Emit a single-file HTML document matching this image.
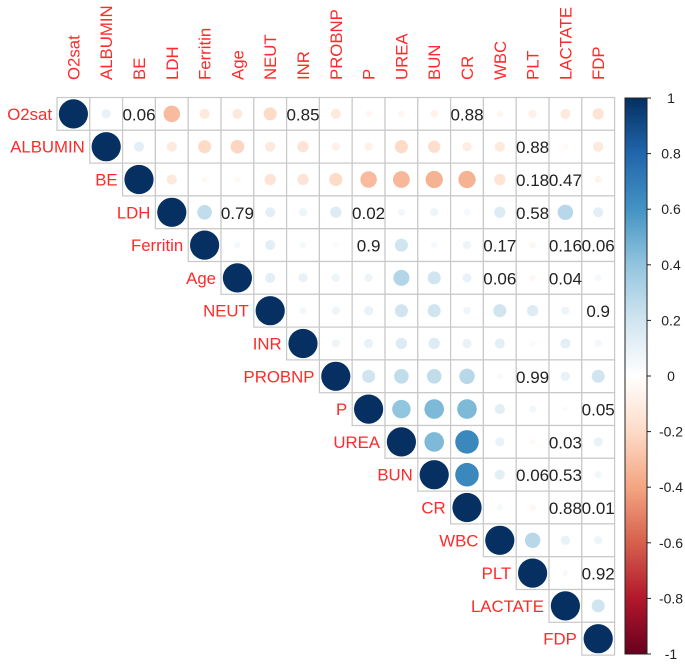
<!DOCTYPE html>
<html><head><meta charset="utf-8"><style>
html,body{margin:0;padding:0;background:#fff;}
svg{display:block;font-family:"Liberation Sans",Arial,sans-serif;}
</style></head><body>
<svg id="chart" width="685" height="664" viewBox="0 0 685 664" xmlns="http://www.w3.org/2000/svg"></svg>
<script>
const variables = ["O2sat","ALBUMIN","BE","LDH","Ferritin","Age","NEUT","INR","PROBNP","P","UREA","BUN","CR","WBC","PLT","LACTATE","FDP"];
// upper triangle rows (starting at diagonal); numbers = correlation, strings = printed p-value (insignificant)
const row0  = [1, 0.1, "0.06", -0.32, -0.12, -0.12, -0.2, "0.85", -0.12, -0.05, -0.05, -0.07, "0.88", -0.05, -0.08, -0.12, -0.15];
const row1  = [1, 0.12, -0.12, -0.2, -0.22, -0.12, -0.15, -0.08, -0.08, -0.2, -0.18, -0.1, -0.12, "0.88", -0.04, -0.12];
const row2  = [1, -0.12, -0.04, -0.04, -0.15, -0.15, -0.2, -0.32, -0.33, -0.35, -0.35, -0.15, "0.18", "0.47", -0.06];
const row3  = [1, 0.25, "0.79", 0.12, 0.08, 0.15, "0.02", 0.06, 0.08, 0.05, 0.15, "0.58", 0.28, 0.12];
const row4  = [1, 0.05, 0.12, 0.05, 0.03, "0.9", 0.2, 0.05, 0.08, "0.17", -0.05, "0.16", "0.06"];
const row5  = [1, 0.12, 0.1, 0.08, 0.08, 0.3, 0.2, 0.1, "0.06", -0.05, "0.04", 0.05];
const row6  = [1, 0.06, 0.08, 0.1, 0.2, 0.2, 0.07, 0.2, 0.15, 0.08, "0.9"];
const row7  = [1, 0.08, 0.1, 0.15, 0.15, 0.1, 0.12, -0.04, 0.12, 0.06];
const row8  = [1, 0.2, 0.25, 0.25, 0.28, 0.04, "0.99", 0.1, 0.2];
const row9  = [1, 0.4, 0.45, 0.45, 0.12, 0.06, 0.03, "0.05"];
const row10 = [1, 0.45, 0.65, 0.1, -0.04, "0.03", 0.1];
const row11 = [1, 0.65, 0.12, "0.06", "0.53", 0.06];
const row12 = [1, 0.05, -0.05, "0.88", "0.01"];
const row13 = [1, 0.28, 0.1, 0.08];
const row14 = [1, 0.04, "0.92"];
const row15 = [1, 0.2];
const row16 = [1];
const rows = [row0,row1,row2,row3,row4,row5,row6,row7,row8,row9,row10,row11,row12,row13,row14,row15,row16];
const legendTicks = [1,0.8,0.6,0.4,0.2,0,-0.2,-0.4,-0.6,-0.8,-1];

const NS="http://www.w3.org/2000/svg";
const svg=document.getElementById('chart');
const X0=57, Y0=97.5, CELL=32.8;
const colX = j => X0 + j*CELL;
const rowY = i => Y0 + i*CELL;
function mk(tag, attrs){const e=document.createElementNS(NS,tag);for(const k in attrs)e.setAttribute(k,attrs[k]);svg.appendChild(e);return e;}
const stops=[[-1,[103,0,31]],[-0.8,[178,24,43]],[-0.6,[214,96,77]],[-0.4,[244,165,130]],[-0.2,[253,219,199]],[0,[255,255,255]],[0.2,[209,229,240]],[0.4,[146,197,222]],[0.6,[67,147,195]],[0.8,[33,102,172]],[1,[5,48,97]]];
function colorOf(v){
  for(let k=0;k<stops.length-1;k++){const a=stops[k],b=stops[k+1];
    if(v>=a[0]&&v<=b[0]){const t=(v-a[0])/(b[0]-a[0]);const c=a[1].map((x,i)=>Math.round(x+(b[1][i]-x)*t));return `rgb(${c[0]},${c[1]},${c[2]})`;}}
  return '#fff';
}
rows.forEach((r,i)=>{
  r.forEach((v,k)=>{
    const j=i+k;
    const cell=mk('rect',{x:colX(j),y:rowY(i),width:CELL,height:CELL,fill:'#fff',stroke:'#c8c8c8','stroke-width':1.2});
    
    
  });
});
rows.forEach((r,i)=>{
  r.forEach((v,k)=>{
    const j=i+k;
    const cx=colX(j)+CELL/2, cy=rowY(i)+CELL/2;
    if(typeof v==='string'){
      const t=mk('text',{x:cx,y:cy+6.5,'text-anchor':'middle','font-size':17,fill:'#222'});
      t.textContent=v;
      
      
    } else {
      const c=mk('circle',{cx:cx,cy:cy,r:14.6*Math.sqrt(Math.abs(v)),fill:colorOf(v)});
      
      
    }
  });
});
variables.forEach((name,i)=>{
  const cx=colX(i)+CELL/2;
  const t=mk('text',{x:0,y:0,transform:`translate(${cx+6},80) rotate(-90)`,'font-size':16.8,fill:'#ff2a2a'});
  t.textContent=name;
  
  
  const r=mk('text',{x:colX(i)-5,y:rowY(i)+CELL/2+6,'text-anchor':'end','font-size':16.8,fill:'#ff2a2a'});
  r.textContent=name;
  
  
});
const BX=625,BW=22,BT=98,BB=654;
const defs=mk('defs',{});
const g=document.createElementNS(NS,'linearGradient');g.setAttribute('id','cb');g.setAttribute('x1','0');g.setAttribute('y1','1');g.setAttribute('x2','0');g.setAttribute('y2','0');
stops.forEach(s=>{const st=document.createElementNS(NS,'stop');st.setAttribute('offset',((s[0]+1)/2*100)+'%');st.setAttribute('stop-color',`rgb(${s[1].join(',')})`);g.appendChild(st);});
defs.appendChild(g);
const bar=mk('rect',{x:BX,y:BT,width:BW,height:BB-BT,fill:'url(#cb)',stroke:'#222','stroke-width':1});


const yLeg=v=>BT+(1-v)/2*(BB-BT);
legendTicks.forEach(v=>{
  const y=yLeg(v);
  const tk=mk('line',{x1:BX+BW,x2:BX+BW+4,y1:y,y2:y,stroke:'#222','stroke-width':1});
  
  
  const t=mk('text',{x:671,y:y+5,'text-anchor':'middle','font-size':14,fill:'#222'});
  t.textContent=String(v);
  
  
});
</script>
</body></html>
